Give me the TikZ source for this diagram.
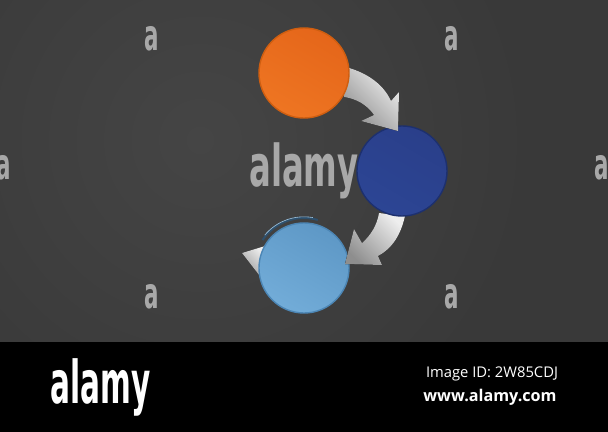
\documentclass[tikz,border=0pt]{standalone}
\usepackage{fontspec}
\setmainfont{Open Sans}
\newfontfamily\logofont{DejaVu Sans}
\usetikzlibrary{calc}
\definecolor{bgdark}{HTML}{393939}
\definecolor{bglight}{HTML}{454545}
\definecolor{orangefill}{HTML}{EE7522}
\definecolor{orangetop}{HTML}{E5661A}
\definecolor{orangerim}{HTML}{CF5E10}
\definecolor{navyfill}{HTML}{2C4594}
\definecolor{navytop}{HTML}{2A3F8A}
\definecolor{navyrim}{HTML}{1D306E}
\definecolor{skyfill}{HTML}{72ACD8}
\definecolor{skytop}{HTML}{5E98C6}
\definecolor{skyrim}{HTML}{4C86B5}
\definecolor{markgray}{HTML}{A8A8A8}
\definecolor{bendlight}{HTML}{EEEEEE}
\definecolor{benddark}{HTML}{8E8E8E}
\newcommand{\squeeze}[2][0.5]{\scalebox{#1}[1]{#2}}

\begin{document}
\begin{tikzpicture}[x=0.025cm, y=-0.025cm,
		disc/.style={circle, minimum size=2.25cm, inner sep=0pt, line width=0.35mm},
		bendarrow/.style={top color=bendlight, bottom color=benddark, shading angle=-45},
		wmark/.style={inner sep=0pt, text=markgray}]
		%%%%% START %%%%%
		
		\useasboundingbox (0, 0) rectangle (608, 432);
		\begin{scope}
			\clip (0, 0) rectangle (608, 342);
			\fill[bgdark] (0, 0) rectangle (608, 342);
			\shade[inner color=bglight, outer color=bgdark] (200, 140) circle (330);
		\end{scope}
		\fill[black] (0, 342) rectangle (608, 432);
		
		\node[wmark, font=\logofont\bfseries\fontsize{30.5}{30}\selectfont] (wmNW) at (152, 39) {\squeeze{a}};
		\node[wmark, font=\logofont\bfseries\fontsize{30.5}{30}\selectfont] (wmNE) at (452, 39) {\squeeze{a}};
		\node[wmark, font=\logofont\bfseries\fontsize{30.5}{30}\selectfont] (wmW) at (4, 168) {\squeeze{a}};
		\node[wmark, font=\logofont\bfseries\fontsize{30.5}{30}\selectfont] (wmE) at (602, 168) {\squeeze{a}};
		\node[wmark, font=\logofont\bfseries\fontsize{30.5}{30}\selectfont] (wmSW) at (152, 297) {\squeeze{a}};
		\node[wmark, font=\logofont\bfseries\fontsize{30.5}{30}\selectfont] (wmSE) at (452, 297) {\squeeze{a}};
		\node[wmark, font=\logofont\bfseries\fontsize{41}{41}\selectfont] (wmMid) at (304, 171) {\squeeze[0.56]{alamy}};
		
		% third arrow, mostly hidden behind the light disc
		\fill[bendarrow] (242, 253) -- (265, 246) -- (266, 284) -- cycle;
		\node[disc, draw=skyrim, top color=skytop, bottom color=skyfill, shading angle=-30] (sky) at (304, 268) {};
		\draw[line width=0.5mm, color=skyrim!60!black] (sky.center) ++(-146:50) arc (-146:-74:50);
		\draw[line width=0.15mm, color=skyfill!70!white] (sky.center) ++(-140:51.2) arc (-140:-80:51.2);
		
		% second arrow
		\fill[bendarrow] (405, 216) .. controls (401, 234) and (393, 248) .. (378, 256) -- (382, 265) -- (345, 264) -- (354, 229) -- (362, 243) .. controls (371, 235) and (377, 225) .. (379, 213) -- cycle;
		\node[disc, draw=navyrim, top color=navytop, bottom color=navyfill, shading angle=-30] (navy) at (402, 171) {};
		
		% first arrow
		\fill[bendarrow] (346, 67) .. controls (368, 73) and (384, 85) .. (391, 101) -- (399, 92) -- (398, 131) -- (361, 121) -- (374, 115) .. controls (367, 105) and (357, 99) .. (344, 97) -- cycle;
		\node[disc, draw=orangerim, top color=orangetop, bottom color=orangefill, shading angle=-30] (orange) at (304, 73) {};
		
		\node[inner sep=0pt, text=white, font=\logofont\bfseries\fontsize{42}{42}\selectfont] (logo) at (100.5, 387.5) {\squeeze{alamy}};
		\node[inner sep=0pt, text=white, font=\fontsize{10.5}{12}\selectfont] (imgid) at (492, 374) {Image ID: 2W85CDJ};
		\node[inner sep=0pt, text=white, font=\bfseries\fontsize{11.5}{13}\selectfont] (site) at (490, 397) {www.alamy.com};
		
		%%%%% END %%%%%
	\end{tikzpicture}
\end{document}
